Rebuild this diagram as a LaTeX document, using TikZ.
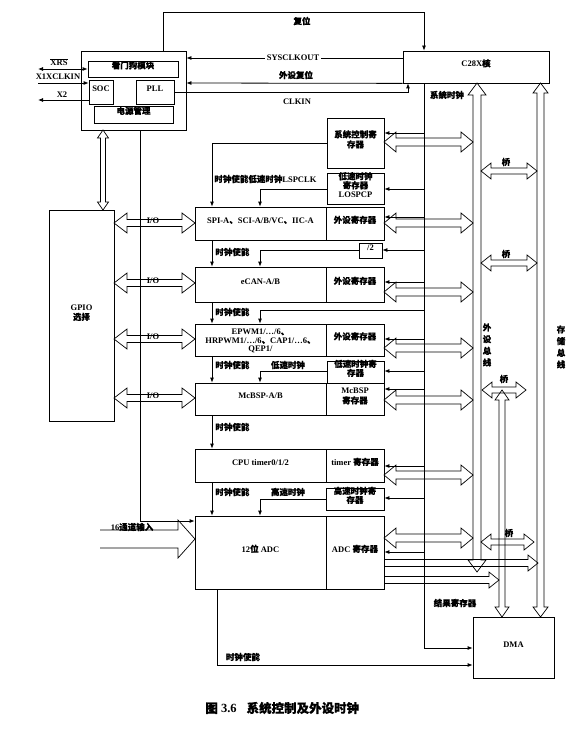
\documentclass[tikz,border=0pt]{standalone}
\usepackage{fontspec}
\setmainfont{Liberation Serif}
\newfontfamily\cjk{Noto Sans CJK SC}[Scale=1.0,FakeBold=0.6]
\usetikzlibrary{arrows.meta,fit}
\newcommand\zh[1]{{\cjk #1}}
% box from (x1,y1) to (x2,y2)
\newcommand\mkbox[6]{\path (#2,#3) coordinate (#1-a) (#4,#5) coordinate (#1-b);
  \node[box, fit=(#1-a)(#1-b)] (#1) {#6};}
% hollow double horizontal arrow: x1,x2,y,shaft half,head half,head length
\newcommand\hollowdbl[6]{\draw[hol] (#1,#3) -- (#1+#6,#3-#5) -- (#1+#6,#3-#4) -- (#2-#6,#3-#4) -- (#2-#6,#3-#5) -- (#2,#3) -- (#2-#6,#3+#5) -- (#2-#6,#3+#4) -- (#1+#6,#3+#4) -- (#1+#6,#3+#5) -- cycle;}
% hollow single right arrow
\newcommand\hollowright[6]{\draw[hol] (#1,#3-#4) -- (#2-#6,#3-#4) -- (#2-#6,#3-#5) -- (#2,#3) -- (#2-#6,#3+#5) -- (#2-#6,#3+#4) -- (#1,#3+#4);}
% hollow double vertical arrow: x,y1,y2,shaft half,head half,head length
\newcommand\hollowvert[6]{\draw[hol] (#1,#2) -- (#1+#5,#2+#6) -- (#1+#4,#2+#6) -- (#1+#4,#3-#6) -- (#1+#5,#3-#6) -- (#1,#3) -- (#1-#5,#3-#6) -- (#1-#4,#3-#6) -- (#1-#4,#2+#6) -- (#1-#5,#2+#6) -- cycle;}
\begin{document}
\begin{tikzpicture}[x=1pt,y=-1pt,line width=0.8pt,
  font=\bfseries\fontsize{8.5}{10}\selectfont,
  >={Latex[length=5pt,width=4pt]},
  box/.style={draw,inner sep=0pt,align=center},
  lbl/.style={inner sep=0pt,align=center},
  hol/.style={draw,line width=0.7pt,line join=miter}]
\fill[white] (0,0) rectangle (575,730);
\useasboundingbox (0,0) rectangle (575,730);

% ---------- boxes ----------
\mkbox{outer}{81}{51}{186}{130}{}
\mkbox{wd}{88}{61}{178}{77}{\zh{看门狗模块}}
\mkbox{soc}{89}{80}{113}{104}{SOC}
\mkbox{pll}{136}{80}{174}{104}{PLL}
\mkbox{pwr}{94}{106}{173}{123}{\zh{电源管理}}
\mkbox{c28}{403}{51}{549}{83}{C28X\zh{核}}
\mkbox{gpio}{49}{210}{114}{421}{GPIO\\\zh{选择}}
\mkbox{ctrl}{327}{118}{384}{168}{\zh{系统控制寄}\\\zh{存器}}
\mkbox{losp}{327}{173}{384}{204}{\zh{低速时钟}\\[-1pt]\zh{寄存器}\\[-1pt]LOSPCP}
\mkbox{spi}{195}{207}{326}{240}{SPI-A\zh{、}SCI-A/B/VC\zh{、}IIC-A}
\mkbox{spir}{326}{207}{384}{240}{\zh{外设寄存器}\\[4pt]}
\mkbox{div}{359}{243}{382}{258}{/2}
\mkbox{ecan}{195}{267}{326}{302}{eCAN-A/B}
\mkbox{ecanr}{326}{267}{384}{302}{\zh{外设寄存器}\\[2pt]}
\mkbox{epwm}{195}{324}{326}{356}{}
\node[lbl] (epwmt) at (260.5,341) {EPWM1/…/6\zh{、}\\[-1.5pt]HRPWM1/…/6\zh{、}CAP1/…6\zh{、}\\[-1.5pt]QEP1/};
\mkbox{epwmr}{326}{324}{384}{356}{\zh{外设寄存器}}
\mkbox{lsr}{327}{361}{384}{383}{\zh{低速时钟寄}\\[-1pt]\zh{存器}}
\mkbox{mcb}{195}{383}{326}{415}{McBSP-A/B}
\mkbox{mcbr}{326}{383}{384}{415}{McBSP\\\zh{寄存器}}
\mkbox{tim}{195}{449}{326}{482}{CPU timer0/1/2}
\mkbox{timr}{326}{449}{384}{482}{timer \zh{寄存器}\\[2pt]}
\mkbox{hsr}{326}{488}{384}{510}{\zh{高速时钟寄}\\[-1pt]\zh{存器}}
\mkbox{adc}{195}{516}{326}{589}{12\zh{位} ADC}
\mkbox{adcr}{326}{516}{384}{589}{ADC \zh{寄存器}\\[8pt]}
\mkbox{dma}{473}{617}{554}{678}{DMA}

% ---------- hollow arrows ----------
\hollowvert{103}{130}{210}{2.5}{5.5}{8}
\foreach \yy in {223,283,339,398}{\hollowdbl{114}{195}{\yy}{3.5}{10}{13}}
\foreach \yy in {142,223,292,348,400,475,538}{\hollowdbl{384}{473}{\yy}{4}{10}{12}}
\hollowdbl{481}{537}{171}{3}{8}{10}
\hollowdbl{481}{537}{263}{3}{8}{10}
\hollowdbl{482}{526}{390}{3}{8}{10}
\hollowdbl{481}{534}{542}{3}{8}{10}
\hollowvert{477}{83}{572}{4}{9}{12}
\hollowvert{540.5}{83}{617}{3.5}{7.5}{10}
\hollowvert{502}{390}{617}{3}{7}{10}
\hollowright{384}{538}{563}{3.5}{8}{10}
\hollowright{384}{499}{580}{3.5}{8}{10}
\hollowright{100}{195}{539}{9}{19}{17}

% ---------- thin connectors ----------
\coordinate (xrs) at (38,69);
\coordinate (xclk) at (38,83);
\coordinate (xtwo) at (38,100);
\draw[<->] (xrs) -- (wd.west |- 0,69);
\draw[->] (xclk) -- (soc.west |- 0,83);
\draw[->] (soc.west |- 0,100) -- (xtwo);
\draw[->] (outer.north -| 163,0) -- (163,12) -- (424,12) -- (c28.north -| 424,0);
\draw[->] (c28.west |- 0,58) -- (outer.east |- 0,58);
\draw[->] (c28.south west) -- (outer.east |- 0,83);
\draw[->] (pll.east) -- (408,92) -- (c28.south -| 408,0);
\draw[->] (outer.south -| 140,0) -- (140,521) -- (adc.west |- 0,521);

\draw[->] (c28.south -| 424,0) -- (424,648) -- (dma.west |- 0,648);
\foreach \yy/\nd in {133/ctrl,189/losp,217/spir,250/div,282/ecanr,339/epwmr,371/lsr,389/mcbr,466/timr,498/hsr,552/adcr}
  {\draw[->] (424,\yy) -- (\nd.east |- 0,\yy);}
\draw[->] (424,310) -- (260,310) -- (epwm.north -| 260,0);

\draw[->] (ctrl.west) -- (ctrl.west -| 212,0) -- (spi.north -| 212,0);
\draw[->] (losp.west |- 0,189) -- (260,189) -- (spi.north -| 260,0);
\draw[->] (div.west) -- (div.west -| 260,0) -- (ecan.north -| 260,0);
\draw[->] (lsr.west |- 0,371) -- (260,371) -- (mcb.north -| 260,0);
\draw[->] (hsr.west |- 0,499) -- (260,499) -- (adc.north -| 260,0);
\draw[->] (spi.south -| 212,0) -- (ecan.north -| 212,0);
\draw[->] (ecan.south -| 212,0) -- (epwm.north -| 212,0);
\draw[->] (epwm.south -| 212,0) -- (mcb.north -| 212,0);
\draw[->] (mcb.south -| 212,0) -- (tim.north -| 212,0);
\draw[->] (tim.south -| 212,0) -- (adc.north -| 212,0);
\draw[->] (adc.south -| 217,0) -- (217,665) -- (dma.west |- 0,665);

% ---------- labels ----------
\node[lbl] (lrst) at (302,21) {\zh{复位}};
\node[lbl,fill=white,inner sep=2pt] (lsysout) at (293,58) {SYSCLKOUT};
\node[lbl] (lprst) at (296,75) {\zh{外设复位}};
\node[lbl] (lclkin) at (297,102) {CLKIN};
\node[lbl] (lxrs) at (59,62) {$\overline{\mbox{\bfseries XRS}}$};
\node[lbl] (lx1) at (58,77) {X1XCLKIN};
\node[lbl] (lx2) at (62,95) {X2};
\node[lbl] (lsc) at (447,95) {\zh{系统时钟}};
\node[lbl,anchor=west] (l1) at (214,179) {\zh{时钟使能低速时钟}LSPCLK};
\node[lbl,anchor=west] (l2) at (215,252) {\zh{时钟使能}};
\node[lbl,anchor=west] (l3) at (215,312) {\zh{时钟使能}};
\node[lbl,anchor=west] (l4) at (215,365) {\zh{时钟使能}};
\node[lbl] (l4b) at (288,365) {\zh{低速时钟}};
\node[lbl,anchor=west] (l5) at (215,427) {\zh{时钟使能}};
\node[lbl,anchor=west] (l6) at (215,492) {\zh{时钟使能}};
\node[lbl] (l6b) at (288,492) {\zh{高速时钟}};
\node[lbl] (l7) at (243,657) {\zh{时钟使能}};
\node[lbl] (l16) at (132,527) {16\zh{通道输入}};
\node[lbl] (lres) at (455,603) {\zh{结果寄存器}};
\foreach \yy in {221,281,337,396}{\node[lbl] at (153,\yy) {I/O};}
\node[lbl] (b1) at (506,162) {\zh{桥}};
\node[lbl] (b2) at (506,254) {\zh{桥}};
\node[lbl] (b3) at (504,379) {\zh{桥}};
\node[lbl] (b4) at (509,533) {\zh{桥}};
\node[lbl,font=\bfseries\fontsize{8.5}{11.7}\selectfont] (lpb) at (487,345) {\zh{外}\\\zh{设}\\\zh{总}\\\zh{线}};
\node[lbl,font=\bfseries\fontsize{8.5}{11.7}\selectfont] (lmb) at (561,347) {\zh{存}\\\zh{储}\\\zh{总}\\\zh{线}};
\node[lbl,anchor=west,font=\bfseries\fontsize{12.5}{14}\selectfont] (cap) at (205,708) {\zh{图} 3.6\hspace{10pt}\zh{系统控制及外设时钟}};
\end{tikzpicture}
\end{document}
